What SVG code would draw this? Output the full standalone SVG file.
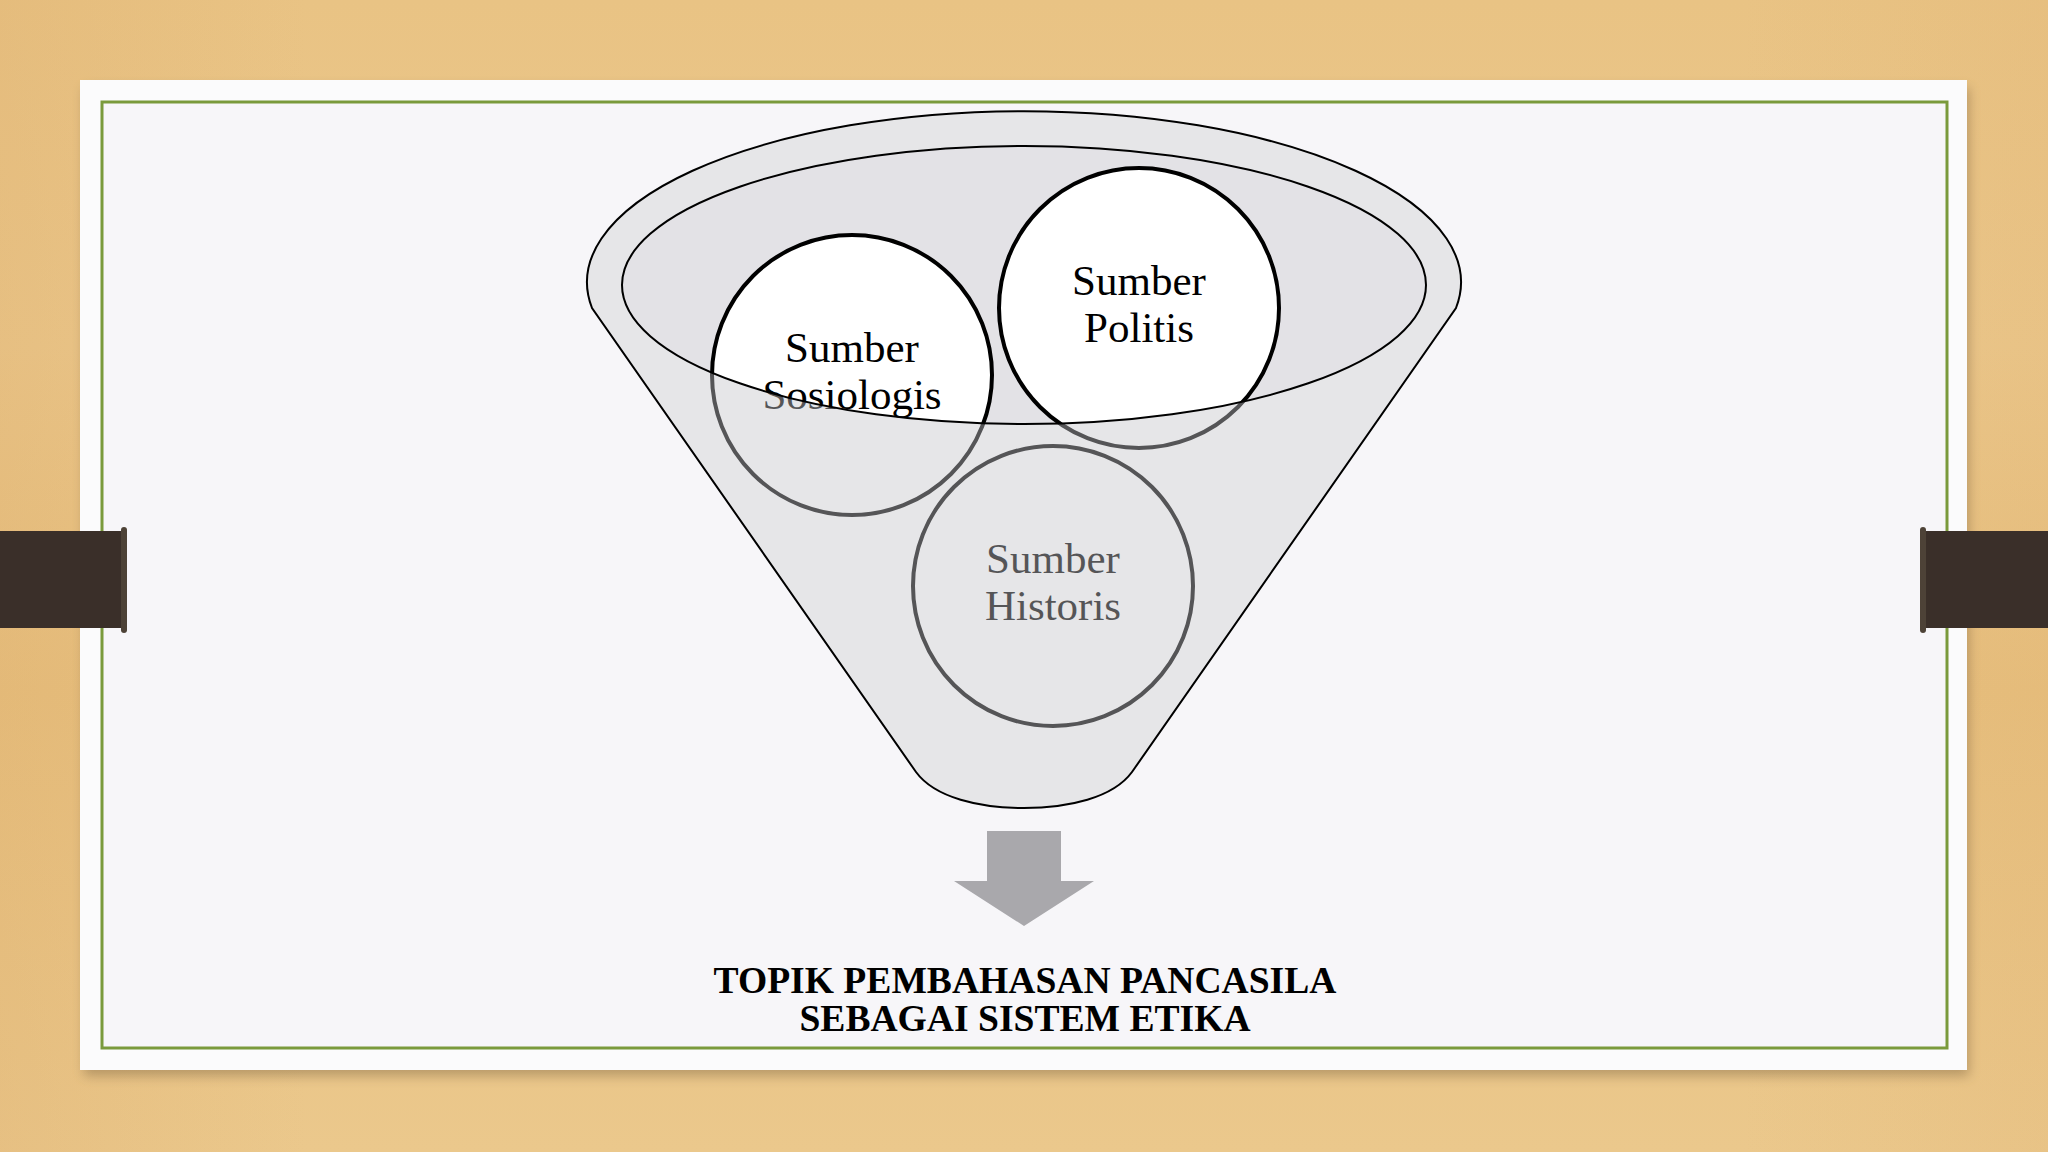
<svg xmlns="http://www.w3.org/2000/svg" width="2048" height="1152" viewBox="0 0 2048 1152">
  <style>
    .lbl { font-family: "Liberation Serif", "Times New Roman", serif; font-size: 43px; text-anchor: middle; fill: #000; }
    .title { font-family: "Liberation Serif", "Times New Roman", serif; font-size: 37.6px; font-weight: bold; text-anchor: middle; fill: #000; }
    .circ { fill: #ffffff; stroke: #000; stroke-width: 4; }
    .band { fill: #3a2f29; }
    .nub { fill: #4d4237; }
  </style>
  <defs>
    <linearGradient id="wood" x1="0" y1="0" x2="0" y2="1">
      <stop offset="0" stop-color="#e9c384"/>
      <stop offset="0.3" stop-color="#ebc78b"/>
      <stop offset="0.6" stop-color="#e7bf7e"/>
      <stop offset="1" stop-color="#ebc88c"/>
    </linearGradient>
    <linearGradient id="woodx" x1="0" y1="0" x2="1" y2="0">
      <stop offset="0" stop-color="#d9a866" stop-opacity="0.25"/>
      <stop offset="0.15" stop-color="#d9a866" stop-opacity="0"/>
      <stop offset="0.85" stop-color="#d9a866" stop-opacity="0"/>
      <stop offset="1" stop-color="#d9a866" stop-opacity="0.15"/>
    </linearGradient>
    <filter id="shadow" x="-5%" y="-5%" width="110%" height="115%">
      <feGaussianBlur stdDeviation="6"/>
    </filter>
    <path id="funnel" d="M592,308 A437,171 0 1 1 1456,308 L1132,772 C1113,798 1068,808 1024,808 C980,808 935,798 916,772 Z"/>
    <ellipse id="mouth" cx="1024" cy="285" rx="402" ry="139"/>
  </defs>

  <!-- background -->
  <rect x="0" y="0" width="2048" height="1152" fill="url(#wood)"/>
  <rect x="0" y="0" width="2048" height="1152" fill="url(#woodx)"/>

  <!-- card -->
  <g id="card">
    <rect x="84" y="88" width="1885" height="988" fill="#7a6240" opacity="0.45" filter="url(#shadow)"/>
    <rect x="80" y="80" width="1887" height="990" fill="#fbfbfc"/>
    <rect x="102" y="102" width="1845" height="946" fill="#f7f6f9" stroke="#7a9a3c" stroke-width="3"/>
  </g>

  <!-- funnel -->
  <g id="funnel-shape">
    <use href="#funnel" fill="#ffffff"/>
    <use href="#mouth" fill="#e3e2e6"/>
  </g>

  <g id="node-sosiologis">
    <circle class="circ" cx="852" cy="375" r="140"/>
    <text class="lbl" x="852" y="362">Sumber</text>
    <text class="lbl" x="852" y="409">Sosiologis</text>
  </g>
  <g id="node-politis">
    <circle class="circ" cx="1139" cy="308" r="140"/>
    <text class="lbl" x="1139" y="295">Sumber</text>
    <text class="lbl" x="1139" y="342">Politis</text>
  </g>
  <g id="node-historis">
    <circle class="circ" cx="1053" cy="586" r="140"/>
    <text class="lbl" x="1053" y="573">Sumber</text>
    <text class="lbl" x="1053" y="620">Historis</text>
  </g>

  <g id="funnel-front">
    <path d="M592,308 A437,171 0 1 1 1456,308 L1132,772 C1113,798 1068,808 1024,808 C980,808 935,798 916,772 Z M622,285 A402,139 0 1 0 1426,285 A402,139 0 1 0 622,285 Z" fill="#c5c4c9" fill-opacity="0.43" fill-rule="evenodd"/>
    <use href="#funnel" fill="none" stroke="#000" stroke-width="2"/>
    <use href="#mouth" fill="none" stroke="#000" stroke-width="2"/>
  </g>

  <!-- connector arrow -->
  <g id="connectors">
    <polygon points="987,831 1061,831 1061,881 1094,881 1024,926 954,881 987,881" fill="#a9a8ac"/>
  </g>

  <g id="node-title">
    <text class="title" x="1025" y="993">TOPIK PEMBAHASAN PANCASILA</text>
    <text class="title" x="1025" y="1031">SEBAGAI SISTEM ETIKA</text>
  </g>

  <!-- side bands -->
  <g id="bands">
    <rect class="band" x="0" y="531" width="126" height="97"/>
    <rect class="nub" x="121" y="527" width="6" height="106" rx="3"/>
    <rect class="band" x="1922" y="531" width="126" height="97"/>
    <rect class="nub" x="1920" y="527" width="6" height="106" rx="3"/>
  </g>
</svg>
